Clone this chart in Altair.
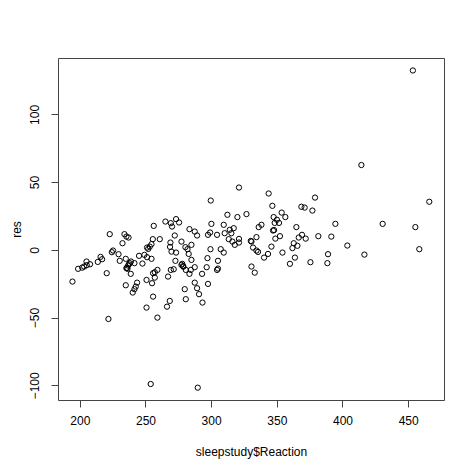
import altair as alt
import pandas as pd

# values (sleepstudy$Reaction vs residuals)
reaction = [
    194.4, 198.7, 201.8, 203.3, 205.1, 205.3, 207.8, 213.7, 215.8, 217.0,
    220.5, 222.8, 224.4, 225.3, 221.8, 229.5, 230.4, 232.5, 234.0, 235.5,
    237.1, 235.0, 235.5, 236.8, 238.0, 239.0, 236.3, 238.8, 235.0, 241.6,
    243.6, 242.6, 241.6, 240.3, 245.1, 247.7, 249.2, 251.2, 251.2, 250.8,
    250.8, 299.7, 256.3, 265.2, 269.3, 270.2, 273.3, 275.6, 272.3, 255.6,
    260.9, 254.6, 253.3, 254.6, 269.0, 268.7, 269.8, 273.3, 277.4, 280.4,
    282.0, 282.9, 285.0, 283.5, 287.5, 289.3, 297.6, 299.2, 300.2, 299.5,
    297.2, 296.6, 297.6, 293.1, 287.5, 285.0, 284.5, 283.5, 277.4, 278.6,
    280.7, 272.8, 271.5, 269.3, 267.2, 259.1, 257.1, 255.8, 257.1, 255.0,
    287.5, 289.3, 290.8, 293.4, 279.9, 280.7, 268.5, 266.4, 255.8, 259.1,
    321.2, 312.4, 326.9, 320.0, 309.6, 304.5, 310.3, 314.2, 315.4, 317.2,
    313.4, 316.2, 318.0, 321.2, 321.2, 307.3, 309.6, 305.2, 304.5, 305.2,
    453.6, 414.4, 343.8, 379.1, 466.1, 346.6, 368.7, 371.2, 377.1, 353.7,
    356.5, 347.6, 350.1, 348.4, 351.7, 394.6, 430.6, 455.5, 338.3, 336.2,
    364.9, 347.1, 347.9, 352.4, 348.9, 334.5, 330.7, 330.2, 369.2, 366.7,
    372.0, 381.6, 391.5, 362.9, 365.7, 361.9, 345.9, 331.9, 334.5, 335.7,
    343.3, 340.3, 354.3, 363.8, 403.7, 389.0, 416.7, 458.5, 360.0, 375.6,
    388.5, 330.7, 333.2, 254.0, 289.8, 235.8, 278.9, 278.0, 237.3, 252.1,
]

res = [
    -23.4, -14.0, -13.1, -12.3, -8.6, -11.3, -10.6, -8.9, -5.2, -6.9,
    -17.2, 11.6, -1.7, -0.5, -51.0, -3.2, -8.1, 4.9, 11.6, 9.8,
    9.1, -6.6, -13.5, -11.6, -9.8, -8.6, -14.0, -17.7, -26.1, -9.8,
    -24.2, -27.1, -29.0, -31.5, -4.4, -10.1, -3.7, -5.4, 1.7, -22.2,
    -42.6, 36.4, 17.7, 20.9, 19.7, 17.2, 22.7, 20.2, 10.6, 7.9,
    7.9, 4.2, 2.4, -6.6, 5.4, 2.2, -1.3, -2.0, 6.1, 2.0,
    0.5, -3.0, 3.7, 15.3, 13.5, 10.6, 11.1, 12.8, 19.2, 0.5,
    -6.1, -12.8, -25.1, -17.7, -12.8, -7.4, -14.8, -17.7, -11.1, -12.0,
    -14.8, -8.1, -14.3, -14.8, -19.7, -14.8, -16.5, -17.2, -20.5, -24.6,
    -24.2, -28.3, -32.7, -38.9, -29.0, -36.4, -37.7, -41.9, -34.5, -50.0,
    46.0, 25.9, 26.4, 24.2, 18.5, 11.1, 12.3, 14.8, 12.3, 16.0,
    7.9, 6.1, 3.7, 8.1, 5.4, 0.5, -2.0, -8.1, -14.8, -13.8,
    132.4, 62.6, 41.6, 38.6, 35.5, 32.5, 31.8, 31.2, 29.0, 27.5,
    24.2, 24.2, 22.2, 19.9, 19.9, 19.2, 19.2, 16.8, 18.5, 16.8,
    16.8, 14.3, 14.6, 10.1, 8.3, 9.4, 6.1, 6.6, 11.1, 9.1,
    8.3, 10.1, 9.8, 4.9, 3.0, 1.3, 2.4, 1.7, -0.5, -1.5,
    -3.0, -5.7, -2.0, -5.7, 3.2, -3.2, -3.5, 0.5, -10.3, -9.1,
    -9.8, -12.3, -16.8, -99.0, -101.7, -13.2, -12.4, -10.3, -10.7, 0.7,
]

x_ticks = [200, 250, 300, 350, 400, 450]
y_ticks = [-100, -50, 0, 50, 100]

df = pd.DataFrame({"Reaction": reaction, "res": res})

font = "Liberation Sans"
axis_col = "#444444"

chart = alt.Chart(df).mark_point(
    shape="circle", filled=False, size=28, stroke="black", strokeWidth=1, opacity=1
).encode(
    x=alt.X("Reaction:Q",
            scale=alt.Scale(domain=[183.4, 477.3], nice=False, zero=False),
            axis=alt.Axis(values=x_ticks, title="sleepstudy$Reaction", grid=False,
                          domain=False, tickSize=7, tickColor=axis_col,
                          labelPadding=8, labelFontSize=12, labelFont=font,
                          labelColor="black", titleFont=font, titleFontSize=12,
                          titleFontWeight="normal", titleColor="black",
                          titleX=193, titleY=51, titleBaseline="middle")),
    y=alt.Y("res:Q",
            scale=alt.Scale(domain=[-110.8, 141.6], nice=False, zero=False),
            axis=alt.Axis(values=y_ticks, title="res", grid=False,
                          domain=False, tickSize=7, tickColor=axis_col,
                          labelAngle=-90, labelAlign="center", labelBaseline="bottom",
                          labelPadding=10, labelFontSize=12, labelFont=font,
                          labelColor="black", titleFont=font, titleFontSize=12,
                          titleFontWeight="normal", titleColor="black",
                          titleAngle=-90, titleX=-42, titleY=171,
                          titleAlign="center", titleBaseline="middle")),
).properties(
    width=386, height=342,
    autosize=alt.AutoSizeParams(type="none"),
    padding={"left": 50, "top": 50, "right": 20, "bottom": 60},
).configure_view(
    stroke=axis_col, strokeWidth=1
)

chart.save("out.html", embed_options={"renderer": "svg", "actions": False})
